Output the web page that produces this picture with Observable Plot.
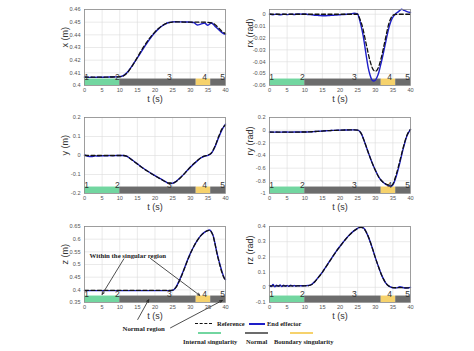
<!DOCTYPE html>
<html><head><meta charset="utf-8">
<script src="https://cdn.jsdelivr.net/npm/d3@7"></script>
<script src="https://cdn.jsdelivr.net/npm/@observablehq/plot@0.6"></script>
<style>
html,body{margin:0;padding:0;background:#fff;}
#root{position:relative;width:474px;height:351px;overflow:hidden;font-family:"Liberation Sans",Arial,sans-serif;}
.panel{position:absolute;}
.panel svg{overflow:visible;}
.lg{position:absolute;font-family:"Liberation Serif","Times New Roman",serif;font-weight:bold;font-size:6.5px;color:#222;white-space:nowrap;line-height:1;transform:translateY(-50%);}
.sw{position:absolute;}
</style></head><body><div id="root"></div>
<script>
// ---------- data ----------
const tTicks = [0,5,10,15,20,25,30,35,40];

const timeX = [0,1,2,3,4,5,6,7,8,9,10,11,12,13,14,15,16,17,18,19,20,21,22,23,24,25,26,27,28,29,30,31,32,33,34,35,36,37,38,39,40];
const xEE  = [0.4068,0.4064,0.4065,0.4064,0.4066,0.4065,0.4066,0.4067,0.4067,0.4068,0.4070,0.4078,0.4100,0.4135,0.4176,0.4218,0.4262,0.4305,0.4347,0.4385,0.4418,0.4447,0.4470,0.4487,0.4497,0.4502,0.4503,0.4502,0.4502,0.4501,0.4500,0.4497,0.4478,0.4484,0.4493,0.4476,0.4494,0.4468,0.4442,0.4418,0.4403];
const xRef = [0.4066,0.4066,0.4066,0.4066,0.4066,0.4066,0.4066,0.4067,0.4067,0.4068,0.4069,0.4075,0.4096,0.4132,0.4175,0.4222,0.4270,0.4315,0.4356,0.4392,0.4423,0.4450,0.4472,0.4488,0.4497,0.4501,0.4502,0.4502,0.4501,0.4501,0.4500,0.4500,0.4500,0.4500,0.4500,0.4499,0.4495,0.4482,0.4455,0.4428,0.4410];
const xTicksY = [0.4,0.41,0.42,0.43,0.44,0.45,0.46];

const timeRx = [0,1,2,3,4,5,6,7,8,9,10,11,12,13,14,15,16,17,18,19,20,21,22,23,24,
  25,25.5,26,26.5,27,27.5,28,28.5,29,29.5,30,30.5,31,31.5,32,32.5,33,33.5,34,34.5,35,35.5,36,36.5,37,37.5,38,39,40];
const rxEE = [0.0002,-0.0004,0.0001,-0.0005,0,-0.0003,0.0001,-0.0002,0.0002,0.0001,0.0003,-0.0002,-0.0004,-0.0008,-0.001,-0.0012,-0.0012,-0.001,-0.0009,-0.0006,-0.0004,-0.0002,0,0.0002,0.0008,
  0.0002,-0.004,-0.010,-0.017,-0.026,-0.036,-0.045,-0.051,-0.055,-0.0562,-0.0555,-0.053,-0.049,-0.043,-0.037,-0.030,-0.023,-0.016,-0.010,-0.0055,-0.0025,-0.0005,0.001,0.002,0.0033,0.0042,0.0035,0.0022,0.0015];
const rxRef = [0,0,0,0,0,0,0,0,0,0,0,0,0,0,0,0,0,0,0,0,0,0,0,0,0,
  0,-0.003,-0.007,-0.012,-0.019,-0.026,-0.033,-0.039,-0.044,-0.047,-0.048,-0.047,-0.044,-0.039,-0.033,-0.026,-0.019,-0.012,-0.0065,-0.003,-0.001,-0.0003,0,0,0,0,0,0,0];
const rxTicksY = [0,-0.01,-0.02,-0.03,-0.04,-0.05,-0.06];

const timeY = timeX;
const yEE  = [0.003,-0.004,-0.006,-0.002,-0.003,-0.001,-0.002,0,-0.001,0,0,0,-0.004,-0.016,-0.030,-0.044,-0.058,-0.071,-0.083,-0.095,-0.106,-0.117,-0.127,-0.138,-0.147,-0.146,-0.136,-0.120,-0.102,-0.082,-0.062,-0.044,-0.028,-0.013,-0.004,0.001,0.012,0.045,0.092,0.135,0.165];
const yRef = [0,0,0,0,0,0,0,0,0,0,0,0,-0.004,-0.017,-0.031,-0.045,-0.059,-0.072,-0.084,-0.096,-0.107,-0.118,-0.128,-0.138,-0.146,-0.146,-0.137,-0.121,-0.102,-0.082,-0.062,-0.043,-0.027,-0.012,-0.003,0.002,0.014,0.048,0.097,0.140,0.160];
const yTicksY = [-0.2,-0.1,0,0.1,0.2];

const timeRy = [0,1,2,3,4,5,6,7,8,9,10,11,12,13,14,15,16,17,18,19,20,21,22,23,24,25,26,27,28,29,30,31,32,33,34,34.5,35,36,37,38,39,40];
const ryEE  = [-0.03,-0.031,-0.03,-0.031,-0.03,-0.03,-0.031,-0.03,-0.03,-0.029,-0.029,-0.027,-0.025,-0.021,-0.018,-0.014,-0.01,-0.007,-0.004,-0.002,0,0.002,0.003,0.004,0.005,0,-0.05,-0.19,-0.35,-0.5,-0.63,-0.74,-0.81,-0.855,-0.878,-0.885,-0.865,-0.72,-0.51,-0.28,-0.09,0.01];
const ryRef = [-0.03,-0.03,-0.03,-0.03,-0.03,-0.03,-0.03,-0.03,-0.03,-0.029,-0.029,-0.027,-0.025,-0.021,-0.018,-0.014,-0.01,-0.007,-0.004,-0.002,0,0.002,0.003,0.004,0.005,0,-0.05,-0.19,-0.35,-0.5,-0.63,-0.74,-0.81,-0.85,-0.87,-0.875,-0.85,-0.69,-0.48,-0.26,-0.08,0.01];
const ryTicksY = [-1,-0.8,-0.6,-0.4,-0.2,0,0.2];

const timeZ = [0,4,8,12,16,20,24,25,26,27,28,29,30,31,32,33,34,35,35.5,36,36.5,37,37.5,38,38.5,39,39.5,40];
const zEE  = [0.397,0.397,0.397,0.397,0.397,0.397,0.397,0.398,0.412,0.44,0.473,0.51,0.543,0.571,0.595,0.614,0.627,0.635,0.636,0.629,0.614,0.585,0.551,0.522,0.496,0.472,0.452,0.44];
const zRef = [0.398,0.398,0.398,0.398,0.398,0.398,0.398,0.399,0.411,0.438,0.471,0.508,0.542,0.571,0.595,0.614,0.627,0.634,0.635,0.628,0.612,0.583,0.549,0.519,0.492,0.468,0.45,0.437];
const zTicksY = [0.35,0.4,0.45,0.5,0.55,0.6,0.65];

const timeRz = [0,0.5,1,1.5,2,2.5,3,3.5,4,4.5,5,5.5,6,6.5,7,7.5,
  8,9,10,11,12,13,14,15,16,17,18,19,20,21,22,23,24,25,
  25.5,26,26.5,27,27.5,28,29,30,31,32,33,34,35,36,37,38,39,40];
const rzEE = [0.012,0.005,0.018,0.004,0.013,0.006,0.015,0.005,0.013,0.007,0.012,0.006,0.013,0.008,0.012,0.008,
  0.011,0.01,0.011,0.012,0.02,0.042,0.07,0.1,0.135,0.17,0.205,0.24,0.27,0.3,0.328,0.352,0.373,0.388,
  0.394,0.395,0.392,0.382,0.36,0.335,0.27,0.197,0.13,0.07,0.028,0.006,-0.003,-0.004,0.004,-0.003,-0.005,0.0];
const rzRef = [0.01,0.01,0.01,0.01,0.01,0.01,0.01,0.01,0.01,0.01,0.01,0.01,0.01,0.01,0.01,0.01,
  0.01,0.01,0.01,0.011,0.018,0.04,0.068,0.099,0.134,0.169,0.204,0.238,0.269,0.299,0.327,0.351,0.372,0.387,
  0.393,0.394,0.391,0.381,0.36,0.335,0.27,0.197,0.13,0.07,0.028,0.006,-0.002,-0.003,-0.002,-0.003,-0.004,-0.002];
const rzTicksY = [-0.1,0,0.1,0.2,0.3,0.4];

const regionStart = [0,10,31.7,35.8];
const regionEnd   = [10,31.7,35.8,40];
const regionKind  = ["Internal singularity","Normal","Boundary singularity","Normal"];
const regionColors = ["#72d6a0","#6c6c6c","#f6d26c"];
const regionNames  = ["Internal singularity","Normal","Boundary singularity"];

const phaseLabels = ["1","2","3","4","5"];
const phaseLabelT = [0.6,9.3,24.1,34.1,39.2];

const annoLabel  = ["Within the singular region","Normal region"];
const annoLabelT = [12.3,16.8];
const annoLabelZ = [0.533,0.246];
const arrowFromT = [11.15,18.7,15.1,24.4];
const arrowFromZ = [0.522,0.524,0.283,0.25];
const arrowToT   = [5.0,32.7,18.2,39.1];
const arrowToZ   = [0.382,0.378,0.361,0.358];

const seriesNames = ["Reference","End effector"];

// ---------- drawing ----------
const root = document.getElementById("root");
const BLUE = "#1e1ec8";
const PW = 141, PH = 76, ML = 40, MR = 8, MT = 6, MB = 26;
const fmt = d => String(+d.toFixed(4));
const colorOf = k => regionColors[regionNames.indexOf(k)];

function panel(cfg) {
  const [y0, y1] = cfg.domain;
  const bandTop = y0 + 0.085 * (y1 - y0);
  const regions = regionStart.map((s, i) => ({s, e: regionEnd[i], k: regionKind[i]}));
  const ee = cfg.t.map((t, i) => ({t, v: cfg.ee[i]}));
  const ref = cfg.t.map((t, i) => ({t, v: cfg.ref[i]}));
  const labs = phaseLabels.map((l, i) => ({l, t: phaseLabelT[i]}));
  const mb = cfg.mb || MB;
  const marks = [
    Plot.gridX(tTicks, {stroke: "#dcdcdc", strokeOpacity: 1, strokeWidth: 0.6}),
    Plot.gridY(cfg.ticks, {stroke: "#dcdcdc", strokeOpacity: 1, strokeWidth: 0.6}),
    Plot.rect(regions, {x1: "s", x2: "e", y1: () => y0, y2: () => bandTop, fill: d => colorOf(d.k)}),
    Plot.line(ee, {x: "t", y: "v", stroke: BLUE, strokeWidth: 1.4, curve: "monotone-x"}),
    Plot.line(ref, {x: "t", y: "v", stroke: "#111", strokeWidth: 1.3, strokeDasharray: "4,2.5", curve: "monotone-x"}),
    Plot.text(labs, {x: "t", y: () => bandTop, text: "l", lineAnchor: "bottom", dy: 0.5, fontSize: 8.5, fill: "#333"}),
    Plot.frame({stroke: "#8a8a8a", strokeWidth: 0.8}),
    Plot.axisX(tTicks, {tickSize: 0, tickPadding: 2.5, label: null, fill: "#555"}),
    Plot.axisY(cfg.ticks, {tickSize: 0, tickPadding: 4, tickFormat: fmt, label: null, fill: "#555"}),
    Plot.text(["t (s)"], {frameAnchor: "bottom", dy: 16, fontSize: 9, fill: "#333"}),
    Plot.text([cfg.label], {frameAnchor: "left", dx: -19, rotate: -90, fontSize: 9, fill: "#333"}),
    ...(cfg.extra || [])
  ];
  const chart = Plot.plot({
    width: ML + PW + MR, height: MT + PH + mb,
    marginLeft: ML, marginRight: MR, marginTop: MT, marginBottom: mb,
    style: {fontFamily: "'Liberation Sans', Arial, sans-serif", fontSize: "5.6px", background: "transparent", overflow: "visible"},
    x: {domain: [0, 40]},
    y: {domain: cfg.domain},
    marks
  });
  const div = document.createElement("div");
  div.className = "panel";
  div.style.left = (cfg.left - ML) + "px";
  div.style.top = (cfg.top - MT) + "px";
  div.append(chart);
  root.append(div);
}

const annoTexts = annoLabel.map((l, i) => ({l, t: annoLabelT[i], z: annoLabelZ[i]}));
const annoArrows = arrowFromT.map((t, i) => ({t1: t, z1: arrowFromZ[i], t2: arrowToT[i], z2: arrowToZ[i]}));
const zExtra = [
  Plot.arrow(annoArrows, {x1: "t1", y1: "z1", x2: "t2", y2: "z2", stroke: "#222", strokeWidth: 0.8, headLength: 5, headAngle: 50}),
  Plot.text(annoTexts, {x: "t", y: "z", text: "l", fontFamily: "'Liberation Serif', 'Times New Roman', serif", fontWeight: "bold", fontSize: 6.8, fill: "#222"})
];

panel({t: timeX,  ee: xEE,  ref: xRef,  domain: [0.4, 0.46],   ticks: xTicksY,  label: "x (m)",    left: 84,  top: 9});
panel({t: timeRx, ee: rxEE, ref: rxRef, domain: [-0.06, 0.004], ticks: rxTicksY, label: "rx (rad)", left: 269, top: 9});
panel({t: timeY,  ee: yEE,  ref: yRef,  domain: [-0.2, 0.2],   ticks: yTicksY,  label: "y (m)",    left: 84,  top: 117});
panel({t: timeRy, ee: ryEE, ref: ryRef, domain: [-1, 0.2],     ticks: ryTicksY, label: "ry (rad)", left: 269, top: 117});
panel({t: timeZ,  ee: zEE,  ref: zRef,  domain: [0.35, 0.65],  ticks: zTicksY,  label: "z (m)",    left: 84,  top: 226, mb: 49, extra: zExtra});
panel({t: timeRz, ee: rzEE, ref: rzRef, domain: [-0.1, 0.4],   ticks: rzTicksY, label: "rz (rad)", left: 269, top: 226});

// ---------- legend ----------
function add(cls, css, text) {
  const el = document.createElement("div");
  el.className = cls;
  Object.assign(el.style, css);
  if (text) el.textContent = text;
  root.append(el);
}
add("sw", {left: "195px", top: "323px", width: "17px", height: "0", borderTop: "1.4px dashed #111"});
add("lg", {left: "217px", top: "324px"}, seriesNames[0]);
add("sw", {left: "249px", top: "323px", width: "16px", height: "1.5px", background: BLUE});
add("lg", {left: "267px", top: "324px"}, seriesNames[1]);
const swLeft = [198, 245, 290];
const txtLeft = [183, 246, 274];
regionNames.forEach((n, i) => {
  add("sw", {left: swLeft[i] + "px", top: "331.5px", width: "23px", height: "2.7px", background: regionColors[i]});
  add("lg", {left: txtLeft[i] + "px", top: "342px"}, n);
});
</script></body></html>
